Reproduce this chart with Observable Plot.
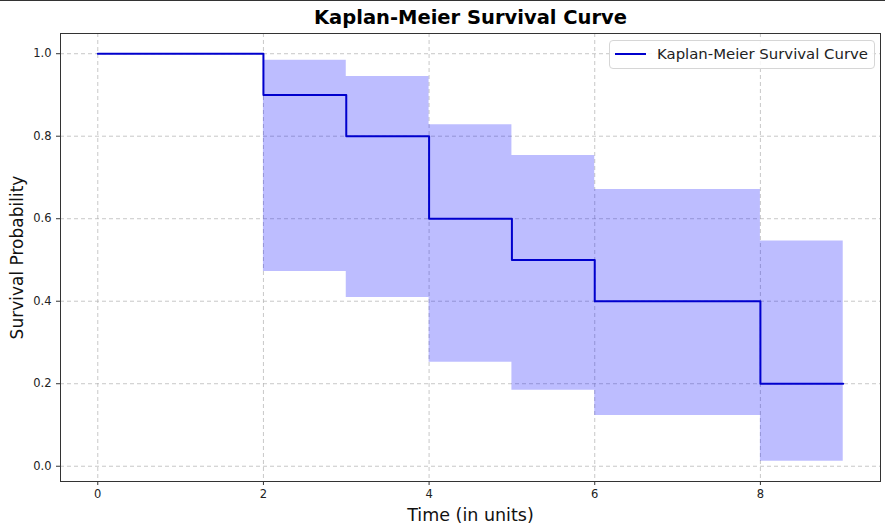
<!DOCTYPE html>
<html>
<head>
<meta charset="utf-8">
<script src="https://cdn.jsdelivr.net/npm/d3@7"></script>
<script src="https://cdn.jsdelivr.net/npm/@observablehq/plot@0.6"></script>
<style>
  html, body { margin: 0; padding: 0; background: #fff; }
  #wrap { position: relative; width: 885px; height: 528px; overflow: hidden; border-top: 1px solid #333; box-sizing: border-box; }
  #wrap svg { position: absolute; left: 0; top: -1px; }
  #legend {
    position: absolute; left: 609px; top: 39px; width: 266px; height: 29px;
    border: 1px solid #d6d6d6; border-radius: 4px; background: rgba(255,255,255,0.85);
    font-family: "DejaVu Sans", sans-serif; font-size: 14.9px; color: #222;
    box-sizing: border-box;
  }
  #legend .sw { position: absolute; left: 5px; top: 12px; width: 31px; height: 2px; background: mediumblue; }
  #legend .tx { position: absolute; left: 47px; top: 4px; white-space: nowrap; }
</style>
</head>
<body>
<div id="wrap"><div id="legend"><div class="sw"></div><div class="tx">Kaplan-Meier Survival Curve</div></div></div>
<script>
const times    = [0, 2, 3, 4, 5, 6, 8, 9];
const survival = [1.0, 0.9, 0.8, 0.6, 0.5, 0.4, 0.2, 0.2];
const upperCI  = [1.0, 0.984, 0.945, 0.828, 0.753, 0.671, 0.546, 0.546];
const lowerCI  = [1.0, 0.472, 0.409, 0.252, 0.184, 0.123, 0.012, 0.012];
const xTicks = [0, 2, 4, 6, 8];
const yTicks = [0, 0.2, 0.4, 0.6, 0.8, 1.0];
const title = "Kaplan-Meier Survival Curve";
const xLabel = "Time (in units)";
const yLabel = "Survival Probability";

const data = times.map((t, i) => ({t, s: survival[i], hi: upperCI[i], lo: lowerCI[i]}));

const chart = Plot.plot({
  width: 885,
  height: 529,
  marginLeft: 60,
  marginRight: 5,
  marginTop: 33,
  marginBottom: 48,
  style: {fontFamily: "DejaVu Sans, sans-serif", background: "#fff", overflow: "visible"},
  x: {domain: [-0.45, 9.45]},
  y: {domain: [-0.037, 1.049]},
  marks: [
    Plot.gridX(xTicks, {stroke: "#b0b0b0", strokeOpacity: 0.7, strokeDasharray: "4,3"}),
    Plot.gridY(yTicks, {stroke: "#b0b0b0", strokeOpacity: 0.7, strokeDasharray: "4,3"}),
    Plot.areaY(data, {x: "t", y1: "lo", y2: "hi", curve: "step-after", fill: "blue", fillOpacity: 0.26}),
    Plot.line(data, {x: "t", y: "s", curve: "step-after", stroke: "mediumblue", strokeWidth: 2}),
    Plot.frame({stroke: "#333", strokeWidth: 1}),
    Plot.axisX(xTicks, {tickSize: 4, tickPadding: 4, fontSize: 11.5, label: null, tickFormat: d3.format("d"), stroke: "#333", fill: "#222"}),
    Plot.axisY(yTicks, {tickSize: 4, tickPadding: 5, fontSize: 11.5, label: null, tickFormat: d3.format(".1f"), stroke: "#333", fill: "#222"}),
    Plot.text([xLabel], {frameAnchor: "bottom", lineAnchor: "middle", textAnchor: "middle", dy: 34, fontSize: 17.5, fill: "#111"}),
    Plot.text([yLabel], {frameAnchor: "left", lineAnchor: "middle", textAnchor: "middle", dx: -43, rotate: -90, fontSize: 17, fill: "#111"}),
    Plot.text([title], {frameAnchor: "top", lineAnchor: "middle", textAnchor: "middle", dy: -16, fontSize: 19.5, fontWeight: "bold", fill: "#000"})
  ]
});
document.getElementById("wrap").prepend(chart);
</script>
</body>
</html>
